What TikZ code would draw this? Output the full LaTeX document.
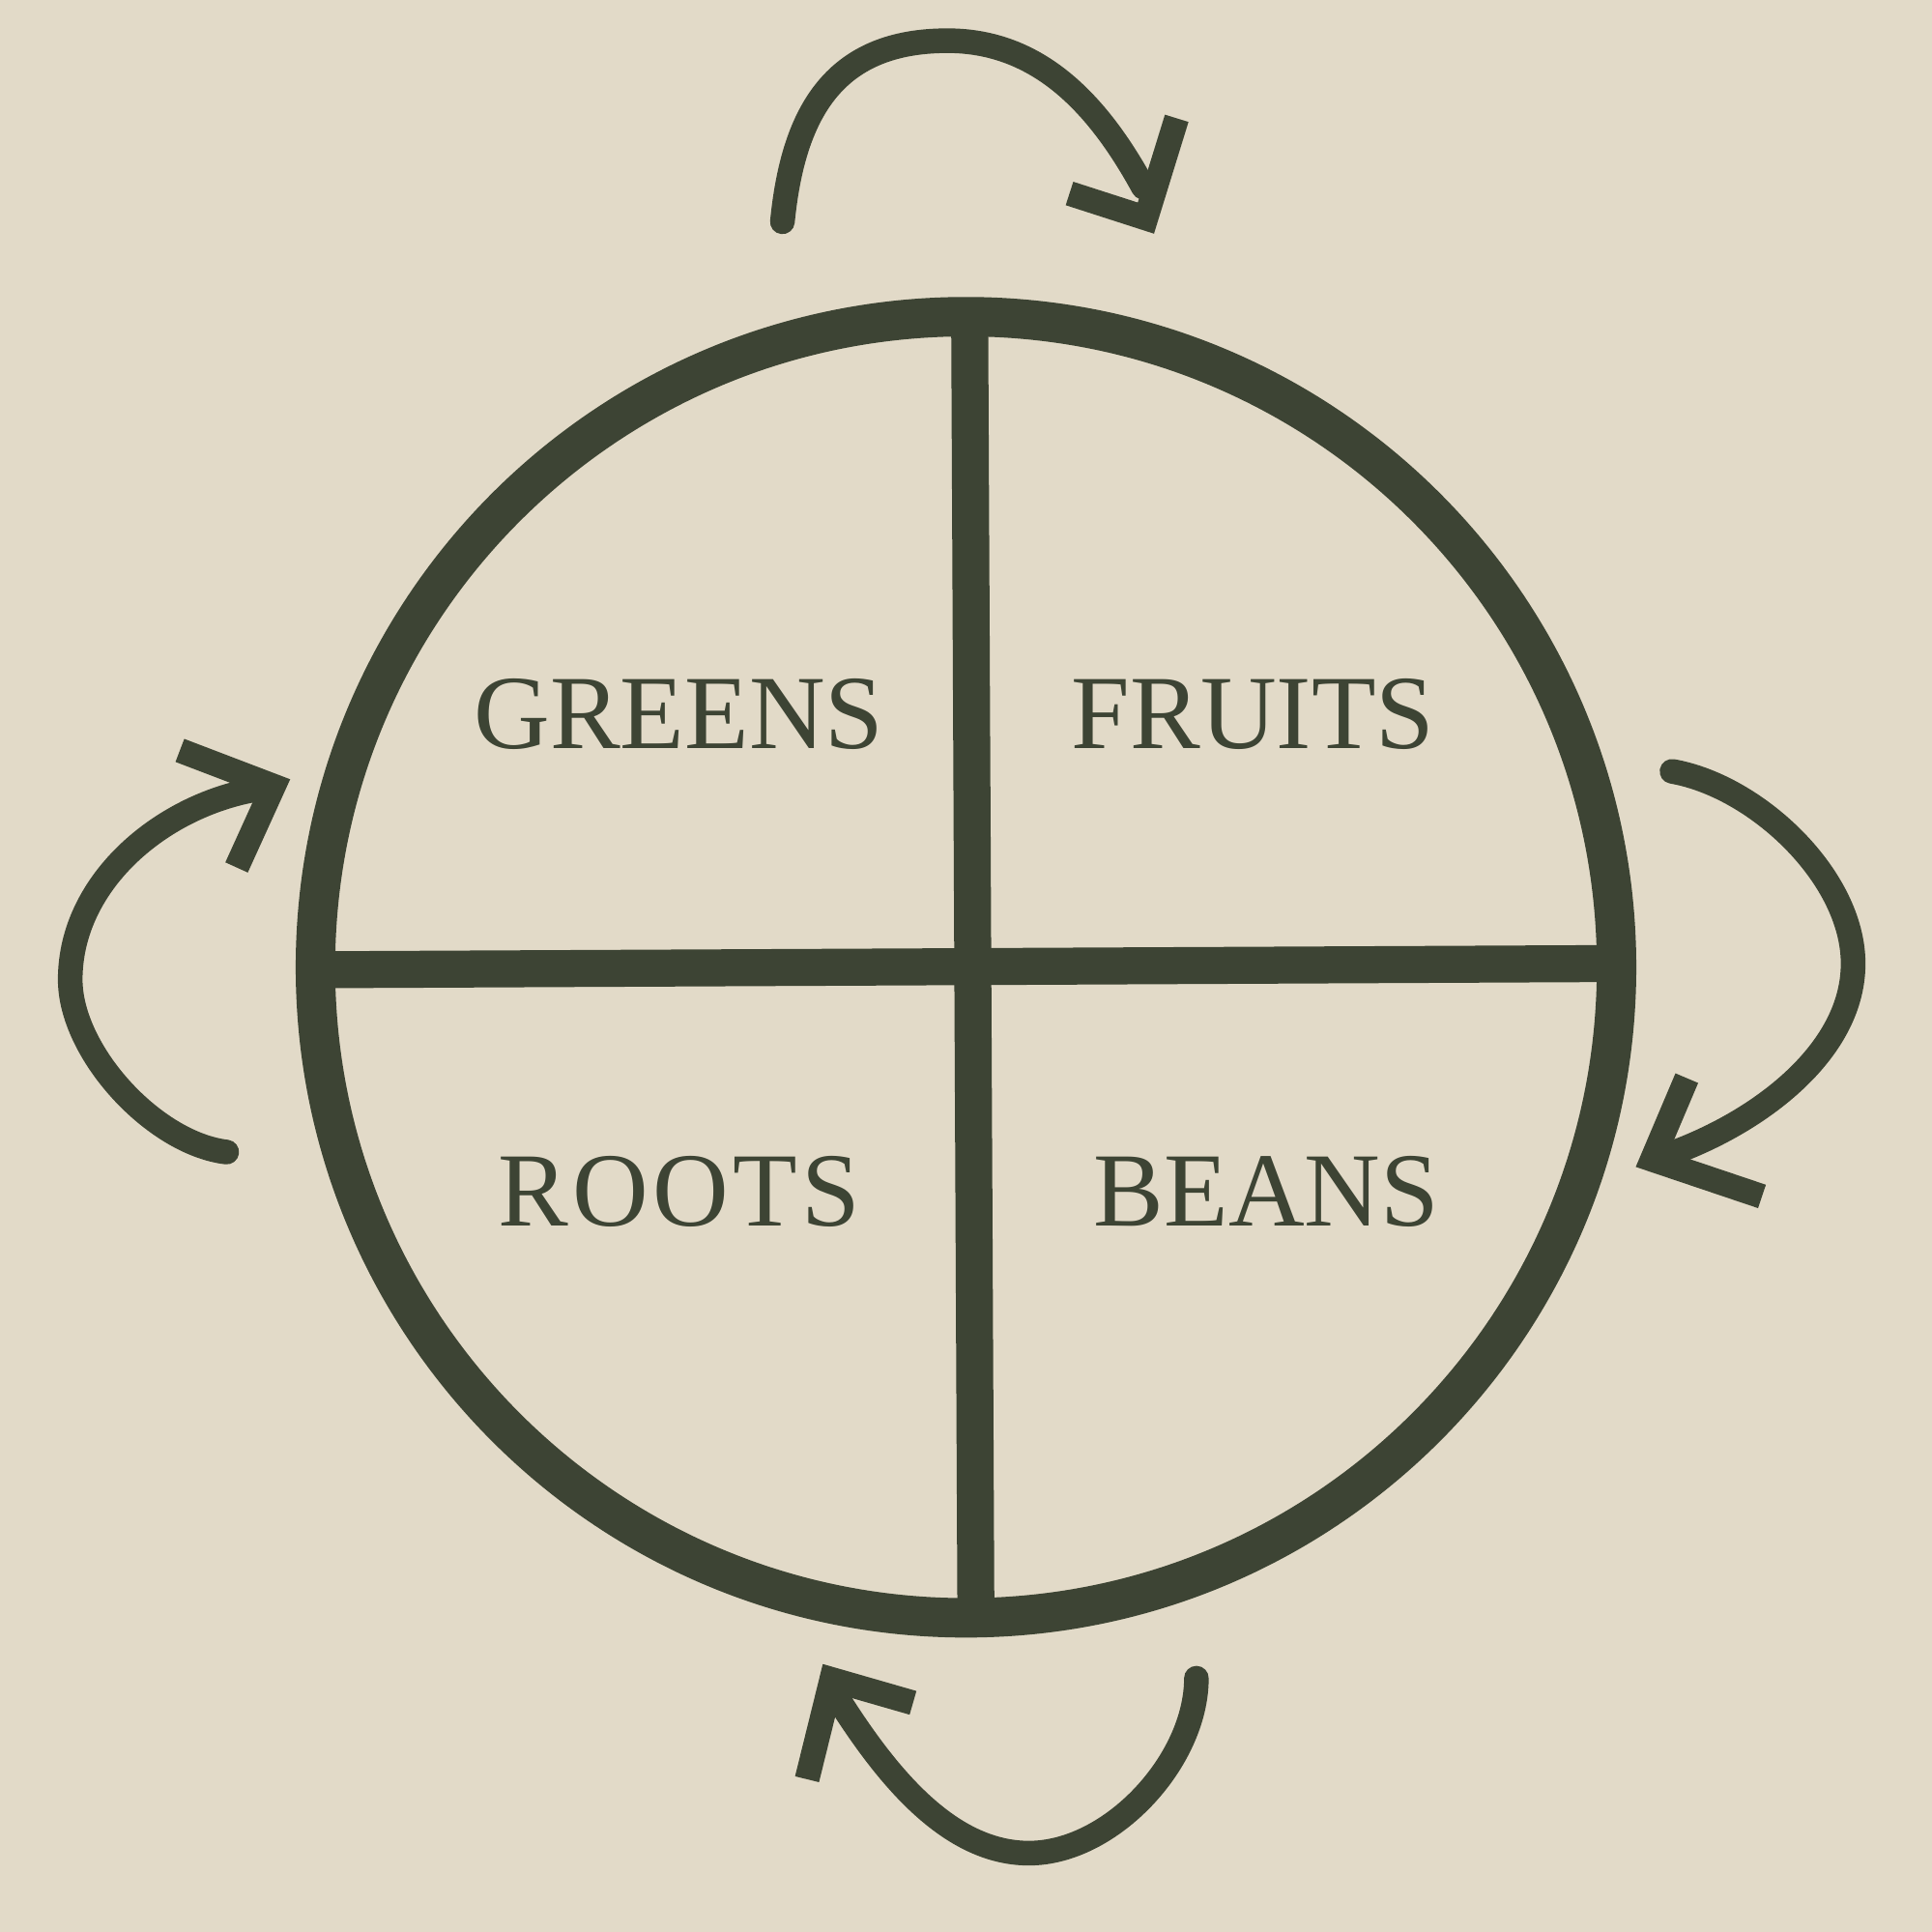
\documentclass[tikz,border=0pt]{standalone}
\usepackage{fontspec}
\setmainfont{Liberation Serif}
\definecolor{bg}{RGB}{226,218,200}
\definecolor{ink}{RGB}{61,68,52}
\tikzset{
  ring/.style={draw=ink, line width=0.32cm},
  divider/.style={draw=ink, line width=0.30cm},
  arc/.style={draw=ink, line width=0.20cm, line cap=round, line join=round},
  headstroke/.style={draw=ink, line width=0.20cm, line cap=butt, line join=miter},
  label/.style={text=ink, font=\fontsize{24.3pt}{28pt}\selectfont, inner sep=0pt}
}
\begin{document}
\begin{tikzpicture}[x=0.01cm, y=-0.01cm]
\fill[bg] (0,0) rectangle (1568,1568);
\useasboundingbox (0,0) rectangle (1568,1568);

% ring and dividers
\coordinate (c) at (784,785);
\draw[ring] (c) circle [radius=528];
\coordinate (vt) at (787,265);
\coordinate (vb) at (792,1305);
\coordinate (hl) at (265,787);
\coordinate (hr) at (1305,782);
\draw[divider] (vt) -- (vb);
\draw[divider] (hl) -- (hr);

% labels
\node[label] (greens) at (551,580) {GREENS};
\node[label] (fruits) at (1017,580) {FRUITS};
\node[label] (roots) at (551,967) {\addfontfeatures{LetterSpace=4}ROOTS};
\node[label] (beans) at (1028,967) {BEANS};

% top arrow
\coordinate (ts) at (635,180);
\coordinate (tp) at (769,33);
\coordinate (te) at (928,152);
\coordinate (tt) at (930,177);
\coordinate (th1) at (868,157);
\coordinate (th2) at (955,96);
\draw[arc] (ts) .. controls (644,88.5) and (679,33) .. (tp) .. controls (844,33) and (892,86) .. (te);
\draw[headstroke] (th1) -- (tt) -- (th2);

% right arrow
\coordinate (rs) at (1357,626);
\coordinate (rp) at (1504,782);
\coordinate (re) at (1345,940);
\coordinate (rt) at (1341,941);
\coordinate (rh1) at (1369,875);
\coordinate (rh2) at (1430,971);
\draw[arc] (rs) .. controls (1426,638) and (1504,712) .. (rp) .. controls (1504,858) and (1418,917) .. (re);
\draw[headstroke] (rh1) -- (rt) -- (rh2);

% bottom arrow
\coordinate (bs) at (971,1362);
\coordinate (bp) at (835,1504);
\coordinate (be) at (679,1377);
\coordinate (bt) at (675,1363);
\coordinate (bh1) at (741,1382);
\coordinate (bh2) at (655,1444);
\draw[arc] (bs) .. controls (971,1429) and (902,1504) .. (bp) .. controls (767,1504) and (715,1434) .. (be);
\draw[headstroke] (bh1) -- (bt) -- (bh2);

% left arrow
\coordinate (ls) at (184,935);
\coordinate (lp) at (57,795);
\coordinate (le) at (212,640);
\coordinate (lt) at (222,638);
\coordinate (lh1) at (146,609);
\coordinate (lh2) at (192,704);
\draw[arc] (ls) .. controls (125,928) and (57,854) .. (lp) .. controls (57,715) and (133,652) .. (le);
\draw[headstroke] (lh1) -- (lt) -- (lh2);
\end{tikzpicture}
\end{document}
